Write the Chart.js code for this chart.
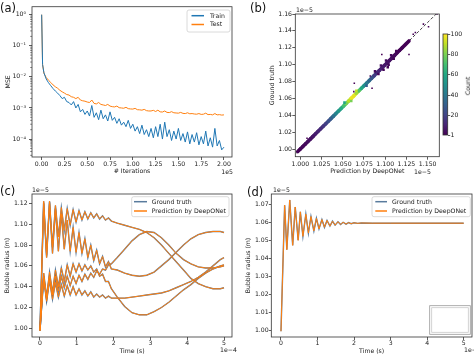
<!DOCTYPE html>
<html><head><meta charset="utf-8">
<script src="https://cdn.jsdelivr.net/npm/chart.js@4.4.1/dist/chart.umd.min.js"></script>
<style>
html,body{margin:0;padding:0;background:#fff;}
body{position:relative;width:474px;height:355px;overflow:hidden;font-family:'DejaVu Sans',sans-serif;}
canvas{position:absolute;display:block;}
.t{position:absolute;white-space:nowrap;color:#222;font-size:6.2px;line-height:1;}
.p{position:absolute;white-space:nowrap;color:#111;font-size:11.5px;line-height:1;}
</style></head><body>
<canvas id="ca" width="237" height="178" style="left:0;top:0"></canvas>
<canvas id="cb" width="237" height="178" style="left:237px;top:0"></canvas>
<canvas id="cbar" width="34" height="178" style="left:440px;top:0"></canvas>
<canvas id="cc" width="237" height="177" style="left:0;top:178px"></canvas>
<canvas id="cd" width="237" height="177" style="left:237px;top:178px"></canvas>
<div class="p" style="left:0;top:3px">(a)</div>
<div class="p" style="left:250px;top:3px">(b)</div>
<div class="p" style="left:0;top:186px">(c)</div>
<div class="p" style="left:247px;top:186.5px">(d)</div>
<div class="t" style="right:241px;top:168.5px">1e5</div>
<div class="t" style="left:296px;top:6.5px">1e−5</div>
<div class="t" style="left:414px;top:168.5px">1e−5</div>
<div class="t" style="left:32px;top:186.5px">1e−5</div>
<div class="t" style="left:220px;top:346.5px">1e−4</div>
<div class="t" style="left:273px;top:186.5px">1e−5</div>
<div class="t" style="left:464px;top:346.5px">1e−4</div>
<div class="t" style="left:468px;top:86px;transform:translate(-50%,-50%) rotate(-90deg);">Count</div>
<script>
// ---------------- DATA ----------------
// (a) training history
const iterationsA = [0,0.01,0.025,0.05,0.075,0.1,0.125,0.15,0.175,0.2,0.225,0.25,0.275,0.3,0.325,0.35,0.375,0.4,0.425,0.45,0.475,0.5,0.525,0.55,0.575,0.6,0.625,0.65,0.675,0.7,0.725,0.75,0.775,0.8,0.825,0.85,0.875,0.9,0.925,0.95,0.975,1.0,1.025,1.05,1.075,1.1,1.125,1.15,1.175,1.2,1.225,1.25,1.275,1.3,1.325,1.35,1.375,1.4,1.425,1.45,1.475,1.5,1.525,1.55,1.575,1.6,1.625,1.65,1.675,1.7,1.725,1.75,1.775,1.8,1.825,1.85,1.875,1.9,1.925,1.95,1.975,2.0];
const trainMSE = [1.0,0.025,1.35e-2,8.5e-3,6.5e-3,5.2e-3,4.2e-3,3.5e-3,3.0e-3,2.5e-3,
2.0e-3,2.2e-3,1.6e-3,1.5e-3,1.25e-3,1.6e-3,1.0e-3,1.3e-3,0.75e-3,0.9e-3,
0.62e-3,0.8e-3,0.55e-3,1.2e-3,0.5e-3,0.7e-3,0.42e-3,0.85e-3,0.45e-3,0.6e-3,
0.38e-3,0.75e-3,0.4e-3,0.5e-3,0.32e-3,0.45e-3,0.28e-3,0.35e-3,0.25e-3,0.4e-3,
0.22e-3,0.3e-3,0.18e-3,0.25e-3,0.15e-3,0.28e-3,0.14e-3,0.2e-3,0.12e-3,0.22e-3,
0.11e-3,0.25e-3,0.12e-3,0.3e-3,0.1e-3,0.35e-3,0.12e-3,0.2e-3,0.09e-3,0.18e-3,
0.1e-3,0.22e-3,0.09e-3,0.15e-3,0.08e-3,0.17e-3,0.07e-3,0.14e-3,0.08e-3,0.16e-3,
0.065e-3,0.12e-3,0.07e-3,0.18e-3,0.06e-3,0.11e-3,0.055e-3,0.22e-3,0.06e-3,0.09e-3,
0.045e-3,0.055e-3];
const testMSE = [1.0,0.025,1.3e-2,9.5e-3,7.8e-3,6.6e-3,5.5e-3,4.8e-3,4.3e-3,3.7e-3,
3.3e-3,3.0e-3,2.7e-3,2.6e-3,2.3e-3,2.2e-3,2.0e-3,2.2e-3,1.8e-3,1.7e-3,
1.65e-3,1.55e-3,1.5e-3,1.8e-3,1.4e-3,1.35e-3,1.5e-3,1.3e-3,1.25e-3,1.2e-3,
1.3e-3,1.15e-3,1.1e-3,1.08e-3,1.15e-3,1.02e-3,1.0e-3,0.98e-3,1.05e-3,0.95e-3,
0.93e-3,0.92e-3,0.97e-3,0.88e-3,0.87e-3,0.85e-3,0.9e-3,0.82e-3,0.8e-3,0.8e-3,
0.84e-3,0.77e-3,0.85e-3,0.75e-3,0.74e-3,0.8e-3,0.72e-3,0.71e-3,0.76e-3,0.7e-3,
0.69e-3,0.68e-3,0.72e-3,0.67e-3,0.66e-3,0.7e-3,0.65e-3,0.66e-3,0.64e-3,0.63e-3,
0.66e-3,0.62e-3,0.63e-3,0.68e-3,0.61e-3,0.62e-3,0.6e-3,0.66e-3,0.6e-3,0.61e-3,
0.59e-3,0.6e-3];
const xTicksA = [0,0.25,0.5,0.75,1.0,1.25,1.5,1.75,2.0];
const xTickLabelsA = ['0.00','0.25','0.50','0.75','1.00','1.25','1.50','1.75','2.00'];
const yTicksA = [1e-4,1e-3,1e-2,1e-1,1];
const yTickLabelsA = ['10⁻⁴','10⁻³','10⁻²','10⁻¹','10⁰'];

// (b) prediction vs ground truth: main diagonal bins (band) ...
const bandPredB = [0.997,1.000,1.003,1.006,1.009,1.012,1.015,1.018,1.021,1.024,1.027,1.030,1.033,1.036,1.039,1.042,1.045,1.048,1.051,1.054,1.057,1.060,1.063,1.066,1.069,1.072,1.075,1.078,1.081,1.084,1.087,1.090,1.093,1.096,1.099,1.102,1.105,1.108,1.111,1.114,1.117,1.120,1.124,1.128];
const bandTruthB = [0.997,1.000,1.003,1.006,1.009,1.012,1.015,1.018,1.021,1.024,1.027,1.030,1.033,1.036,1.039,1.042,1.045,1.048,1.051,1.054,1.057,1.060,1.063,1.066,1.069,1.072,1.075,1.078,1.081,1.084,1.087,1.090,1.093,1.096,1.099,1.102,1.105,1.108,1.111,1.114,1.117,1.120,1.124,1.128];
const bandCountB = [1,2,3,3,4,5,6,8,10,12,15,18,22,28,35,42,50,58,66,75,85,95,100,92,80,65,55,45,38,30,22,15,12,10,8,7,6,5,4,3,2,1,1,1];
// ... and scattered off-diagonal bins
const predB = [1.088,1.092,1.095,1.098,1.101,1.104,1.107,1.110,1.113,1.103,1.052,1.060,1.066,1.078,
1.096,1.128,1.0824,1.0845,1.0636,1.063,1.0079,1.151,1.1355,1.161,1.145,1.133];
const truthB = [1.092,1.089,1.099,1.094,1.105,1.100,1.111,1.107,1.116,1.097,1.055,1.057,1.069,1.075,
1.112,1.112,1.0865,1.072,1.0779,1.068,1.0127,1.145,1.138,1.160,1.148,1.136];
const countB = [4,3,5,3,4,3,3,2,2,2,60,80,90,30,
1,1,2,1,1,2,1,1,1,1,1,1];
const identityB = [0.995,1.162];
const xTicksB = [1.000,1.025,1.050,1.075,1.100,1.125,1.150];
const xTickLabelsB = ['1.000','1.025','1.050','1.075','1.100','1.125','1.150'];
const yTicksB = [1.00,1.02,1.04,1.06,1.08,1.10,1.12,1.14,1.16];
const yTickLabelsB = ['1.00','1.02','1.04','1.06','1.08','1.10','1.12','1.14','1.16'];
const countTicks = [1,20,40,60,80,100];
const countTickLabels = ['1','20','40','60','80','100'];

// (c) five bubble radius histories (time in 1e-4 s, radius in 1e-5 m)
const timeC = [0,0.10,0.18,0.26,0.34,0.42,0.50,0.58,0.66,0.74,0.82,0.90,0.98,1.06,1.14,1.22,1.30,1.38,1.46,1.54,1.62,1.70,1.78,1.86,1.94,2.1,2.3,2.5,2.7,2.9,3.1,3.3,3.5,3.7,3.9,4.1,4.3,4.5,4.7,4.9,5.0];
const radiusC1 = [0.998,1.122,1.068,1.121,1.078,1.118,1.088,1.116,1.094,1.115,1.099,1.114,1.102,1.113,1.104,1.112,1.105,1.111,1.106,1.110,1.105,1.108,1.104,1.106,1.103,1.101,1.099,1.097,1.095,1.092,1.087,1.080,1.072,1.064,1.056,1.048,1.043,1.040,1.038,1.038,1.039];
const radiusC2 = [0.998,1.120,1.070,1.122,1.072,1.115,1.074,1.110,1.076,1.104,1.074,1.097,1.073,1.092,1.072,1.086,1.068,1.080,1.065,1.075,1.062,1.069,1.059,1.064,1.057,1.056,1.053,1.051,1.050,1.051,1.054,1.060,1.066,1.073,1.080,1.086,1.090,1.092,1.093,1.093,1.092];
const radiusC3 = [0.998,1.053,1.030,1.054,1.034,1.056,1.040,1.058,1.045,1.061,1.050,1.062,1.054,1.062,1.055,1.061,1.056,1.060,1.054,1.057,1.050,1.052,1.045,1.045,1.038,1.030,1.021,1.015,1.013,1.013,1.016,1.020,1.025,1.031,1.037,1.042,1.048,1.053,1.057,1.060,1.061];
const radiusC4 = [0.998,1.050,1.028,1.050,1.032,1.050,1.036,1.050,1.039,1.050,1.041,1.050,1.043,1.051,1.045,1.052,1.047,1.053,1.049,1.055,1.052,1.057,1.056,1.061,1.062,1.068,1.076,1.084,1.090,1.093,1.092,1.087,1.080,1.072,1.066,1.062,1.059,1.058,1.058,1.059,1.060];
const radiusC5 = [0.998,1.048,1.026,1.046,1.028,1.044,1.030,1.042,1.031,1.041,1.032,1.040,1.032,1.038,1.032,1.036,1.031,1.035,1.030,1.033,1.030,1.032,1.029,1.031,1.029,1.029,1.029,1.030,1.031,1.032,1.033,1.034,1.036,1.039,1.042,1.045,1.049,1.054,1.060,1.066,1.068];
const xTicksCD = [0,1,2,3,4,5];
const xTickLabelsCD = ['0','1','2','3','4','5'];
const yTicksC = [1.00,1.02,1.04,1.06,1.08,1.10,1.12];
const yTickLabelsC = ['1.00','1.02','1.04','1.06','1.08','1.10','1.12'];

// (d) single bubble radius history
const timeD = [0,0.10,0.16,0.24,0.32,0.39,0.47,0.53,0.60,0.68,0.75,0.82,0.90,0.97,1.04,1.12,1.19,1.26,1.34,1.41,1.48,1.56,1.63,1.70,1.78,1.85,1.92,2.00,2.10,2.20,2.50,3.00,4.00,5.00];
const radiusD = [0.9995,1.0695,1.0448,1.0724,1.0472,1.0685,1.0500,1.0658,1.0522,1.0645,1.0540,1.0632,1.0552,1.0622,1.0563,1.0615,1.0572,1.0610,1.0579,1.0606,1.0584,1.0603,1.0588,1.0600,1.0590,1.0598,1.0592,1.0597,1.0594,1.0596,1.0595,1.0595,1.0595,1.0595];
const yTicksD = [1.00,1.01,1.02,1.03,1.04,1.05,1.06,1.07];
const yTickLabelsD = ['1.00','1.01','1.02','1.03','1.04','1.05','1.06','1.07'];

// ---------------- STYLE / HELPERS ----------------
const BLUE = '#1f77b4', ORANGE = '#ff7f0e', TRUTH = 'rgba(60,100,140,0.85)', INK = '#222', FONT = "'DejaVu Sans', sans-serif", FS = 6.2;
Chart.defaults.font.family = FONT;
Chart.defaults.font.size = FS;
Chart.defaults.color = INK;
Chart.defaults.animation = false;
Chart.defaults.responsive = false;
Chart.defaults.devicePixelRatio = 1;
Chart.defaults.plugins.legend.display = false;
Chart.defaults.plugins.tooltip.enabled = false;

const VIR = ['#440154','#482475','#414487','#355f8d','#2a788e','#21918c','#22a884','#44bf70','#7ad151','#bddf26','#fde725'];
function hx(h){return [parseInt(h.substr(1,2),16),parseInt(h.substr(3,2),16),parseInt(h.substr(5,2),16)];}
function viridis(t){t=Math.max(0,Math.min(1,t));const p=t*10,i=Math.min(9,Math.floor(p)),f=p-i;const a=hx(VIR[i]),b=hx(VIR[i+1]);
  return 'rgb('+a.map((c,k)=>Math.round(c+(b[k]-c)*f)).join(',')+')';}
const countColor = c => viridis((c-1)/99);

function pts(xs, ys){ return xs.map((x,i)=>({x:x, y:ys[i]})); }

function axis(o){
  return {
    type: o.type || 'linear', position: o.position, min: o.min, max: o.max,
    afterBuildTicks: s => { s.ticks = o.values.map(v => ({value: v})); },
    afterFit: s => { if (o.position === 'bottom') s.height = o.size; else s.width = o.size; },
    ticks: { autoSkip:false, maxRotation:0, minRotation:0, padding:o.tickPad, color:INK, font:{size:FS},
             callback:(v,i)=>o.labels[i] },
    grid: { display:true, drawOnChartArea:false, drawTicks:true, tickLength:o.tickLen||3, tickColor:'#333', tickWidth:0.8 },
    border: { display:false },
    title: { display:!!o.title, text:o.title || '', color:INK, font:{size:FS},
             padding:{top:o.titlePad||0, bottom:o.titlePad||0} }
  };
}

const framePlugin = { id:'frame', afterDatasetsDraw(chart){
  const {ctx, chartArea:a} = chart; ctx.save(); ctx.strokeStyle='#333'; ctx.lineWidth=0.8;
  ctx.strokeRect(a.left, a.top, a.right-a.left, a.bottom-a.top); ctx.restore(); } };

const legendPlugin = { id:'boxLegend', afterDraw(chart, args, o){
  if (!o || !o.items) return;
  const ctx = chart.ctx; ctx.save();
  const r = 2, b = o.box;
  ctx.beginPath(); ctx.moveTo(b.x+r,b.y); ctx.arcTo(b.x+b.w,b.y,b.x+b.w,b.y+b.h,r); ctx.arcTo(b.x+b.w,b.y+b.h,b.x,b.y+b.h,r);
  ctx.arcTo(b.x,b.y+b.h,b.x,b.y,r); ctx.arcTo(b.x,b.y,b.x+b.w,b.y,r); ctx.closePath();
  ctx.fillStyle='rgba(255,255,255,0.85)'; ctx.fill(); ctx.strokeStyle='#d0d0d0'; ctx.lineWidth=0.8; ctx.stroke();
  ctx.font = FS + 'px ' + FONT; ctx.textBaseline='middle'; ctx.textAlign='left';
  o.items.forEach(it => {
    const ds = chart.data.datasets[it.ds];
    ctx.strokeStyle = ds.borderColor; ctx.lineWidth = 1.5;
    ctx.beginPath(); ctx.moveTo(o.lineX[0], it.y); ctx.lineTo(o.lineX[1], it.y); ctx.stroke();
    ctx.fillStyle = INK; ctx.fillText(ds.label, o.textX, it.y + 0.3);
  });
  ctx.restore(); } };

const minorPlugin = { id:'minorTicks', afterDraw(chart, args, o){
  if (!o || !o.on) return;
  const s = chart.scales.y, ctx = chart.ctx, left = chart.chartArea.left; ctx.save();
  ctx.strokeStyle='#333'; ctx.lineWidth=0.6;
  for (let n=-5;n<=0;n++) for (let k=2;k<=9;k++){
    const v = k*Math.pow(10,n); if (v < s.min || v > s.max) continue;
    const y = s.getPixelForValue(v); ctx.beginPath(); ctx.moveTo(left-1.8,y); ctx.lineTo(left,y); ctx.stroke(); }
  ctx.restore(); } };

const cbarPlugin = { id:'cbarFill', beforeDatasetsDraw(chart, args, o){
  if (!o || !o.on) return;
  const {ctx, chartArea:a} = chart; const g = ctx.createLinearGradient(0,a.bottom,0,a.top);
  VIR.forEach((c,i)=>g.addColorStop(i/10,c)); ctx.save(); ctx.fillStyle=g;
  ctx.fillRect(a.left,a.top,a.right-a.left,a.bottom-a.top); ctx.restore(); } };

const insetPlugin = { id:'inset', afterDraw(chart, args, o){
  if (!o || !o.box) return;
  const ctx = chart.ctx, b = o.box; ctx.save(); ctx.fillStyle='#fff'; ctx.fillRect(b.x,b.y,b.w,b.h);
  ctx.strokeStyle='#999'; ctx.lineWidth=0.8; ctx.strokeRect(b.x,b.y,b.w,b.h);
  ctx.strokeStyle='#c8c8c8'; ctx.strokeRect(b.x+2,b.y+2,b.w-4,b.h-4); ctx.restore(); } };

Chart.register(framePlugin, legendPlugin, minorPlugin, cbarPlugin, insetPlugin);

// ---------------- (a) ----------------
new Chart(document.getElementById('ca'), {
  type:'line',
  data:{ datasets:[
    {label:'Train', data:pts(iterationsA,trainMSE), borderColor:BLUE, borderWidth:1, pointRadius:0, tension:0},
    {label:'Test', data:pts(iterationsA,testMSE), borderColor:ORANGE, borderWidth:1, pointRadius:0, tension:0}
  ]},
  options:{
    layout:{padding:{left:0,top:6,right:5,bottom:0}},
    scales:{
      x: axis({position:'bottom',min:-0.106,max:2.088,values:xTicksA,labels:xTickLabelsA,size:21,tickLen:3,tickPad:0.5,title:'# Iterations',titlePad:2.5}),
      y: axis({type:'logarithmic',position:'left',min:2.65e-5,max:1.8,values:yTicksA,labels:yTickLabelsA,size:32,tickLen:3,tickPad:3,title:'MSE',titlePad:4.9})
    },
    plugins:{ minorTicks:{on:true},
      boxLegend:{box:{x:187,y:10,w:43,h:22}, lineX:[191.5,204], textX:210, items:[{ds:0,y:15.7},{ds:1,y:24.5}]} }
  }
});

// ---------------- (b) ----------------
new Chart(document.getElementById('cb'), {
  type:'scatter',
  data:{ datasets:[
    {type:'line', label:'band', data:pts(bandPredB,bandTruthB), borderWidth:3.6, pointRadius:0, tension:0,
     borderCapStyle:'round', borderColor:countColor(bandCountB[0]),
     segment:{ borderColor: c => countColor((bandCountB[c.p0DataIndex] + bandCountB[c.p1DataIndex]) / 2) }, order:2},
    {label:'bins', data:pts(predB,truthB), pointStyle:'rect',
     pointRadius:countB.map((c,i)=> i < 14 ? 1.8 : 1.1), borderWidth:0,
     backgroundColor:countB.map(countColor), order:1},
    {type:'line', label:'y=x', data:pts(identityB,identityB), borderColor:'#111', borderWidth:0.8, borderDash:[3,2],
     pointRadius:0, order:3}
  ]},
  options:{
    layout:{padding:{left:28,top:14,right:34.7,bottom:0}},
    scales:{
      x: axis({position:'bottom',min:0.9941,max:1.1637,values:xTicksB,labels:xTickLabelsB,size:21.3,tickLen:3,tickPad:0.5,title:'Prediction by DeepONet',titlePad:2.5}),
      y: axis({position:'left',min:0.9909,max:1.16,values:yTicksB,labels:yTickLabelsB,size:30.3,tickLen:3,tickPad:0.3,title:'Ground truth',titlePad:3.2})
    }
  }
});

// colour bar
new Chart(document.getElementById('cbar'), {
  type:'scatter', data:{datasets:[]},
  options:{
    layout:{padding:{left:3,top:34,right:0,bottom:43}},
    scales:{
      x: {display:false, min:0, max:1},
      y: axis({position:'right',min:1,max:100,values:countTicks,labels:countTickLabels,size:26.3,tickLen:2.5,tickPad:0.3})
    },
    plugins:{ cbarFill:{on:true} }
  }
});

// ---------------- (c) ----------------
const curvesC = [radiusC1, radiusC2, radiusC3, radiusC4, radiusC5];
const dsC = [];
curvesC.forEach(c => dsC.push({label:'Ground truth', data:pts(timeC,c), borderColor:TRUTH, borderWidth:1.4, pointRadius:0, tension:0, order:2}));
curvesC.forEach(c => dsC.push({label:'Prediction by DeepONet', data:pts(timeC,c), borderColor:ORANGE, borderWidth:1, pointRadius:0, tension:0, order:1}));
new Chart(document.getElementById('cc'), {
  type:'line', data:{datasets:dsC},
  options:{
    layout:{padding:{left:0,top:16,right:5,bottom:0}},
    scales:{
      x: axis({position:'bottom',min:-0.217,max:5.217,values:xTicksCD,labels:xTickLabelsCD,size:18,tickLen:3,tickPad:0,title:'Time (s)',titlePad:0.3}),
      y: axis({position:'left',min:0.9917,max:1.129,values:yTicksC,labels:yTickLabelsC,size:32,tickLen:3,tickPad:1.3,title:'Bubble radius (m)',titlePad:3.7})
    },
    plugins:{ boxLegend:{box:{x:131.7,y:18.7,w:97.3,h:20}, lineX:[134,147], textX:151.7, items:[{ds:0,y:23.7},{ds:5,y:33}]} }
  }
});

// ---------------- (d) ----------------
new Chart(document.getElementById('cd'), {
  type:'line', data:{datasets:[
    {label:'Ground truth', data:pts(timeD,radiusD), borderColor:TRUTH, borderWidth:1.4, pointRadius:0, tension:0, order:2},
    {label:'Prediction by DeepONet', data:pts(timeD,radiusD), borderColor:ORANGE, borderWidth:1, pointRadius:0, tension:0, order:1}
  ]},
  options:{
    layout:{padding:{left:0,top:16,right:2,bottom:0}},
    scales:{
      x: axis({position:'bottom',min:-0.265,max:5.227,values:xTicksCD,labels:xTickLabelsCD,size:18,tickLen:3,tickPad:0,title:'Time (s)',titlePad:0.3}),
      y: axis({position:'left',min:0.9963,max:1.0757,values:yTicksD,labels:yTickLabelsD,size:34.3,tickLen:2.5,tickPad:0.1,title:'Bubble radius (m)',titlePad:7.2})
    },
    plugins:{ boxLegend:{box:{x:135,y:18.7,w:98.3,h:20}, lineX:[138.3,150], textX:155, items:[{ds:0,y:23.7},{ds:1,y:33}]},
      inset:{box:{x:192.7,y:127.7,w:40.6,h:28.6}} }
  }
});
</script>
</body></html>
